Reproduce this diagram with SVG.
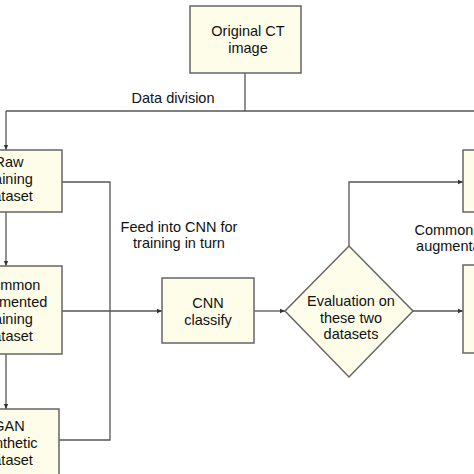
<svg xmlns="http://www.w3.org/2000/svg" width="474" height="474" viewBox="0 0 474 474">
<defs>
<marker id="ah" markerWidth="6" markerHeight="6" refX="5" refY="3" orient="auto" markerUnits="userSpaceOnUse">
<path d="M0,0.8 L5,3 L0,5.2 z" fill="#333"/>
</marker>
<style>
.box{fill:#fdfde9;stroke:#666;stroke-width:1.5}
.ln{fill:none;stroke:#555;stroke-width:1.3}
text{font-family:"Liberation Sans",Arial,sans-serif;font-size:14.5px;fill:#111;text-anchor:middle}
</style>
</defs>
<rect width="474" height="474" fill="#fff"/>
<g id="connectors">
<path class="ln" d="M245,73 V111"/>
<path class="ln" d="M6,111 H480"/>
<path class="ln" d="M6,111 V150" marker-end="url(#ah)"/>
<path class="ln" d="M6,212 V266" marker-end="url(#ah)"/>
<path class="ln" d="M6,354 V409" marker-end="url(#ah)"/>
<path class="ln" d="M62,182 H110 V440 H59"/>
<path class="ln" d="M62,311 H162" marker-end="url(#ah)"/>
<path class="ln" d="M254,311 H285" marker-end="url(#ah)"/>
<path class="ln" d="M349,246 V182 H463" marker-end="url(#ah)"/>
<path class="ln" d="M413,311 H463" marker-end="url(#ah)"/>
<text x="173" y="103">Data division</text>
<text x="179" y="232">Feed into CNN for</text>
<text x="179" y="248">training in turn</text>
<text x="460" y="235">Common data</text>
<text x="460" y="251">augmentation</text>
</g>
<g id="original">
<rect class="box" x="190" y="6" width="111" height="67"/>
<text x="248" y="36">Original CT</text>
<text x="248" y="53">image</text>
</g>
<g id="raw">
<rect class="box" x="-44" y="150" width="106" height="62"/>
<text x="9" y="167">Raw</text>
<text x="9" y="184">training</text>
<text x="9" y="201">dataset</text>
</g>
<g id="common">
<rect class="box" x="-44" y="266" width="106" height="88"/>
<text x="11" y="290">Common</text>
<text x="11" y="307">augmented</text>
<text x="9" y="324">training</text>
<text x="9" y="341">dataset</text>
</g>
<g id="gan">
<rect class="box" x="-44" y="409" width="103" height="70"/>
<text x="9" y="431">GAN</text>
<text x="9" y="448">synthetic</text>
<text x="9" y="465">dataset</text>
</g>
<g id="cnn">
<rect class="box" x="162" y="278" width="92" height="65"/>
<text x="208" y="308">CNN</text>
<text x="208" y="325">classify</text>
</g>
<g id="eval">
<path class="box" d="M349,246 L413,311 L349,377 L285,311 Z"/>
<text x="351" y="306">Evaluation on</text>
<text x="351" y="323">these two</text>
<text x="351" y="339">datasets</text>
</g>
<g id="right1">
<rect class="box" x="463" y="150" width="80" height="62"/>
</g>
<g id="right2">
<rect class="box" x="463" y="265" width="80" height="88"/>
</g>
</svg>
